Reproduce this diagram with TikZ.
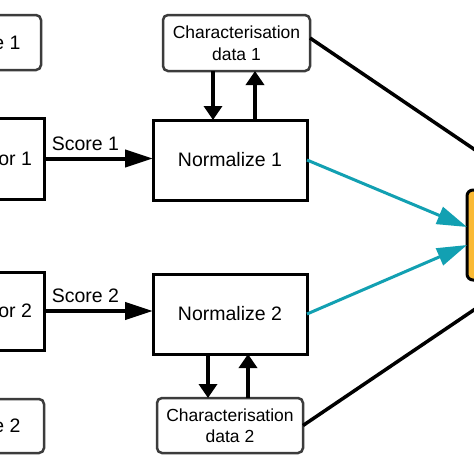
\documentclass[tikz,border=0pt]{standalone}
\usepackage{fontspec}
\setmainfont{Liberation Sans}
\usetikzlibrary{arrows.meta,calc}
\definecolor{cyanline}{RGB}{18,160,178}
\definecolor{outfill}{RGB}{250,186,52}
\definecolor{boxgray}{RGB}{60,60,60}
\begin{document}
\begin{tikzpicture}[x=1pt,y=-1pt,
 box/.style={draw=black, line width=3pt, fill=white, inner sep=0pt, outer sep=0pt, font=\fontsize{19.5}{23}\selectfont},
 rbox/.style={box, draw=boxgray, rounded corners=5pt, line width=2.5pt},
 charbox/.style={rbox, align=center, font=\fontsize{17.5}{21.5}\selectfont},
 arr/.style={line width=4pt, -{Triangle[length=28pt,width=17pt]}},
 varr/.style={line width=4pt, -{Triangle[length=14pt,width=18pt]}},
 carr/.style={draw=cyanline, line width=3pt, -{Triangle[length=30pt,width=18pt]}},
 link/.style={line width=3.5pt},
 lbl/.style={font=\fontsize{19.5}{23}\selectfont, inner sep=0pt, anchor=base}]
\useasboundingbox (0,0) rectangle (474,474);
\clip (0,0) rectangle (474,474);
\fill[white] (0,0) rectangle (474,474);
% nodes
\node[rbox, minimum width=147pt, minimum height=55pt] (ref1) at (-32.5,42.5) {Reference 1};
\node[box, minimum width=114pt, minimum height=81pt] (det1) at (-13,158.5) {Detector 1};
\node[box, minimum width=114pt, minimum height=78pt] (det2) at (-13,311) {Detector 2};
\node[rbox, minimum width=153pt, minimum height=54pt] (ref2) at (-32.5,426) {Reference 2};
\node[box, minimum width=154pt, minimum height=80pt] (norm1) at (230,160) {Normalize 1};
\node[box, minimum width=154pt, minimum height=80pt] (norm2) at (230,314) {Normalize 2};
\node[charbox, minimum width=147pt, minimum height=56pt] (char1) at (236.5,43) {Characterisation\\data 1};
\node[charbox, minimum width=146pt, minimum height=55pt] (char2) at (230,425.5) {Characterisation\\data 2};
\node[draw, line width=3pt, fill=outfill, rounded corners=6pt, minimum width=80pt, minimum height=90pt, inner sep=0pt, outer sep=0pt] (out) at (507,235) {};
% helper coordinates
\coordinate (dn1x) at (213,0);
\coordinate (up1x) at (255,0);
\coordinate (dn2x) at (208,0);
\coordinate (up2x) at (248,0);
\coordinate (e1) at (490,160);
\coordinate (e2) at (490,299);
% connectors
\draw[arr] (det1.east) -- node[lbl, pos=.38, yshift=8pt] (sc1) {Score 1} (det1.east -| norm1.west);
\draw[arr] (det2.east) -- node[lbl, pos=.38, yshift=9pt] (sc2) {Score 2} (det2.east -| norm2.west);
\draw[varr] (char1.south -| dn1x) -- (norm1.north -| dn1x);
\draw[varr] (norm1.north -| up1x) -- (char1.south -| up1x);
\draw[varr] (norm2.south -| dn2x) -- (char2.north -| dn2x);
\draw[varr] (char2.north -| up2x) -- (norm2.south -| up2x);
\draw[carr] (norm1.east) -- ($(out.west)+(0,-8)$);
\draw[carr] (norm2.east) -- ($(out.west)+(0,10)$);
\draw[link] ($(char1.east)+(0,-5)$) -- (e1);
\draw[link] (char2.east) -- (e2);
\end{tikzpicture}
\end{document}
